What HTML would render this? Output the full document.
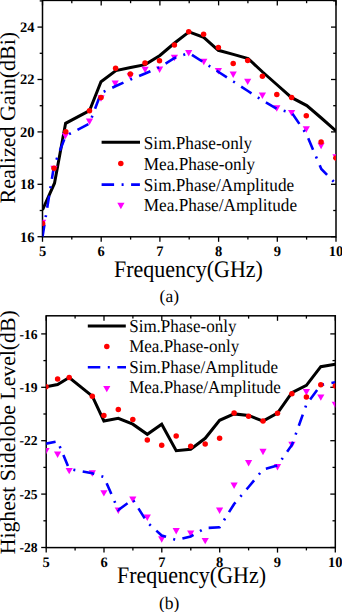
<!DOCTYPE html>
<html><head><meta charset="utf-8"><style>
html,body{margin:0;padding:0;background:#fff;}
body{width:342px;height:612px;overflow:hidden;}
svg{display:block;font-family:"Liberation Serif",serif;}
text{text-rendering:geometricPrecision;}
</style></head><body>
<svg width="342" height="612" viewBox="0 0 342 612">
<defs><clipPath id="ca"><rect x="42.5" y="0.4" width="293.5" height="236.4"/></clipPath><clipPath id="cb"><rect x="46.2" y="315.8" width="289.1" height="231.8"/></clipPath></defs>
<rect x="42.5" y="0.4" width="293.5" height="236.4" fill="none" stroke="#000" stroke-width="1.5"/>
<line x1="42.5" y1="236.8" x2="42.5" y2="241.8" stroke="#000" stroke-width="1.3"/>
<line x1="42.5" y1="0.4" x2="42.5" y2="5.4" stroke="#000" stroke-width="1.3"/>
<text transform="translate(42.50,255.80) scale(1,1.0)" font-size="14.5" font-weight="bold" text-anchor="middle">5</text>
<line x1="71.8" y1="236.8" x2="71.8" y2="239.60000000000002" stroke="#000" stroke-width="1.3"/>
<line x1="71.8" y1="0.4" x2="71.8" y2="3.1999999999999997" stroke="#000" stroke-width="1.3"/>
<line x1="101.2" y1="236.8" x2="101.2" y2="241.8" stroke="#000" stroke-width="1.3"/>
<line x1="101.2" y1="0.4" x2="101.2" y2="5.4" stroke="#000" stroke-width="1.3"/>
<text transform="translate(101.20,255.80) scale(1,1.0)" font-size="14.5" font-weight="bold" text-anchor="middle">6</text>
<line x1="130.6" y1="236.8" x2="130.6" y2="239.60000000000002" stroke="#000" stroke-width="1.3"/>
<line x1="130.6" y1="0.4" x2="130.6" y2="3.1999999999999997" stroke="#000" stroke-width="1.3"/>
<line x1="159.9" y1="236.8" x2="159.9" y2="241.8" stroke="#000" stroke-width="1.3"/>
<line x1="159.9" y1="0.4" x2="159.9" y2="5.4" stroke="#000" stroke-width="1.3"/>
<text transform="translate(159.90,255.80) scale(1,1.0)" font-size="14.5" font-weight="bold" text-anchor="middle">7</text>
<line x1="189.2" y1="236.8" x2="189.2" y2="239.60000000000002" stroke="#000" stroke-width="1.3"/>
<line x1="189.2" y1="0.4" x2="189.2" y2="3.1999999999999997" stroke="#000" stroke-width="1.3"/>
<line x1="218.6" y1="236.8" x2="218.6" y2="241.8" stroke="#000" stroke-width="1.3"/>
<line x1="218.6" y1="0.4" x2="218.6" y2="5.4" stroke="#000" stroke-width="1.3"/>
<text transform="translate(218.60,255.80) scale(1,1.0)" font-size="14.5" font-weight="bold" text-anchor="middle">8</text>
<line x1="247.9" y1="236.8" x2="247.9" y2="239.60000000000002" stroke="#000" stroke-width="1.3"/>
<line x1="247.9" y1="0.4" x2="247.9" y2="3.1999999999999997" stroke="#000" stroke-width="1.3"/>
<line x1="277.3" y1="236.8" x2="277.3" y2="241.8" stroke="#000" stroke-width="1.3"/>
<line x1="277.3" y1="0.4" x2="277.3" y2="5.4" stroke="#000" stroke-width="1.3"/>
<text transform="translate(277.30,255.80) scale(1,1.0)" font-size="14.5" font-weight="bold" text-anchor="middle">9</text>
<line x1="306.6" y1="236.8" x2="306.6" y2="239.60000000000002" stroke="#000" stroke-width="1.3"/>
<line x1="306.6" y1="0.4" x2="306.6" y2="3.1999999999999997" stroke="#000" stroke-width="1.3"/>
<line x1="336.0" y1="236.8" x2="336.0" y2="241.8" stroke="#000" stroke-width="1.3"/>
<line x1="336.0" y1="0.4" x2="336.0" y2="5.4" stroke="#000" stroke-width="1.3"/>
<text transform="translate(336.00,255.80) scale(1,1.0)" font-size="14.5" font-weight="bold" text-anchor="middle">10</text>
<line x1="37.5" y1="236.7" x2="42.5" y2="236.7" stroke="#000" stroke-width="1.3"/>
<line x1="336.0" y1="236.7" x2="331.0" y2="236.7" stroke="#000" stroke-width="1.3"/>
<text transform="translate(34.40,241.50) scale(1,1.0)" font-size="14.5" font-weight="bold" text-anchor="end">16</text>
<line x1="39.7" y1="210.5" x2="42.5" y2="210.5" stroke="#000" stroke-width="1.3"/>
<line x1="336.0" y1="210.5" x2="333.2" y2="210.5" stroke="#000" stroke-width="1.3"/>
<line x1="37.5" y1="184.3" x2="42.5" y2="184.3" stroke="#000" stroke-width="1.3"/>
<line x1="336.0" y1="184.3" x2="331.0" y2="184.3" stroke="#000" stroke-width="1.3"/>
<text transform="translate(34.40,189.10) scale(1,1.0)" font-size="14.5" font-weight="bold" text-anchor="end">18</text>
<line x1="39.7" y1="158.1" x2="42.5" y2="158.1" stroke="#000" stroke-width="1.3"/>
<line x1="336.0" y1="158.1" x2="333.2" y2="158.1" stroke="#000" stroke-width="1.3"/>
<line x1="37.5" y1="131.9" x2="42.5" y2="131.9" stroke="#000" stroke-width="1.3"/>
<line x1="336.0" y1="131.9" x2="331.0" y2="131.9" stroke="#000" stroke-width="1.3"/>
<text transform="translate(34.40,136.70) scale(1,1.0)" font-size="14.5" font-weight="bold" text-anchor="end">20</text>
<line x1="39.7" y1="105.7" x2="42.5" y2="105.7" stroke="#000" stroke-width="1.3"/>
<line x1="336.0" y1="105.7" x2="333.2" y2="105.7" stroke="#000" stroke-width="1.3"/>
<line x1="37.5" y1="79.5" x2="42.5" y2="79.5" stroke="#000" stroke-width="1.3"/>
<line x1="336.0" y1="79.5" x2="331.0" y2="79.5" stroke="#000" stroke-width="1.3"/>
<text transform="translate(34.40,84.30) scale(1,1.0)" font-size="14.5" font-weight="bold" text-anchor="end">22</text>
<line x1="39.7" y1="53.3" x2="42.5" y2="53.3" stroke="#000" stroke-width="1.3"/>
<line x1="336.0" y1="53.3" x2="333.2" y2="53.3" stroke="#000" stroke-width="1.3"/>
<line x1="37.5" y1="27.1" x2="42.5" y2="27.1" stroke="#000" stroke-width="1.3"/>
<line x1="336.0" y1="27.1" x2="331.0" y2="27.1" stroke="#000" stroke-width="1.3"/>
<text transform="translate(34.40,31.90) scale(1,1.0)" font-size="14.5" font-weight="bold" text-anchor="end">24</text>
<line x1="39.7" y1="0.9" x2="42.5" y2="0.9" stroke="#000" stroke-width="1.3"/>
<line x1="336.0" y1="0.9" x2="333.2" y2="0.9" stroke="#000" stroke-width="1.3"/>
<g clip-path="url(#ca)">
<polyline points="42.5,210.0 54.5,183.2 65.6,123.3 89.5,110.7 101.0,81.8 115.9,70.6 130.6,67.5 145.2,64.6 159.9,55.5 174.6,43.0 189.0,31.9 203.7,37.4 218.3,50.3 233.3,54.4 248.1,58.5 262.6,72.0 277.3,85.0 291.3,97.4 306.8,105.6 321.3,118.0 336.0,131.0" fill="none" stroke="#000" stroke-width="3"/>
<polygon points="39.00,219.80 46.20,219.80 42.60,226.20" fill="#ff00ff"/>
<polygon points="50.40,165.80 57.60,165.80 54.00,172.20" fill="#ff00ff"/>
<polygon points="61.80,132.90 69.00,132.90 65.40,139.30" fill="#ff00ff"/>
<polygon points="85.90,118.50 93.10,118.50 89.50,124.90" fill="#ff00ff"/>
<polygon points="97.40,95.30 104.60,95.30 101.00,101.70" fill="#ff00ff"/>
<polygon points="111.60,80.60 118.80,80.60 115.20,87.00" fill="#ff00ff"/>
<polygon points="126.70,73.30 133.90,73.30 130.30,79.70" fill="#ff00ff"/>
<polygon points="141.50,66.70 148.70,66.70 145.10,73.10" fill="#ff00ff"/>
<polygon points="156.00,66.50 163.20,66.50 159.60,72.90" fill="#ff00ff"/>
<polygon points="170.80,54.80 178.00,54.80 174.40,61.20" fill="#ff00ff"/>
<polygon points="185.10,50.00 192.30,50.00 188.70,56.40" fill="#ff00ff"/>
<polygon points="200.20,58.80 207.40,58.80 203.80,65.20" fill="#ff00ff"/>
<polygon points="214.80,68.10 222.00,68.10 218.40,74.50" fill="#ff00ff"/>
<polygon points="229.60,71.50 236.80,71.50 233.20,77.90" fill="#ff00ff"/>
<polygon points="244.10,78.70 251.30,78.70 247.70,85.10" fill="#ff00ff"/>
<polygon points="258.80,92.50 266.00,92.50 262.40,98.90" fill="#ff00ff"/>
<polygon points="273.20,105.30 280.40,105.30 276.80,111.70" fill="#ff00ff"/>
<polygon points="288.00,109.90 295.20,109.90 291.60,116.30" fill="#ff00ff"/>
<polygon points="302.70,126.30 309.90,126.30 306.30,132.70" fill="#ff00ff"/>
<polygon points="317.50,142.80 324.70,142.80 321.10,149.20" fill="#ff00ff"/>
<polygon points="332.40,154.30 339.60,154.30 336.00,160.70" fill="#ff00ff"/>
<polyline points="42.5,236.7 54.0,166.0 65.6,136.0 89.5,123.5 101.0,93.0 115.9,86.0 130.6,79.5 145.2,73.5 159.9,67.0 174.6,58.0 189.0,53.0 203.9,62.5 218.6,72.0 233.3,81.5 247.9,91.0 262.6,100.5 277.3,109.0 292.0,113.0 306.6,134.5 321.3,169.0 336.0,184.0" fill="none" stroke="#0000ff" stroke-width="2.6" stroke-dasharray="12.3 7.5 2 7.5" stroke-dashoffset="0"/>
<circle cx="42.6" cy="223.4" r="2.75" fill="#ff0000"/>
<circle cx="54.0" cy="168.3" r="2.75" fill="#ff0000"/>
<circle cx="65.8" cy="131.8" r="2.75" fill="#ff0000"/>
<circle cx="89.5" cy="110.7" r="2.75" fill="#ff0000"/>
<circle cx="101.0" cy="97.5" r="2.75" fill="#ff0000"/>
<circle cx="115.6" cy="68.2" r="2.75" fill="#ff0000"/>
<circle cx="130.3" cy="73.9" r="2.75" fill="#ff0000"/>
<circle cx="145.0" cy="63.0" r="2.75" fill="#ff0000"/>
<circle cx="159.5" cy="60.7" r="2.75" fill="#ff0000"/>
<circle cx="174.4" cy="45.0" r="2.75" fill="#ff0000"/>
<circle cx="188.7" cy="31.7" r="2.75" fill="#ff0000"/>
<circle cx="203.6" cy="34.3" r="2.75" fill="#ff0000"/>
<circle cx="218.4" cy="47.6" r="2.75" fill="#ff0000"/>
<circle cx="233.2" cy="63.4" r="2.75" fill="#ff0000"/>
<circle cx="247.7" cy="60.5" r="2.75" fill="#ff0000"/>
<circle cx="262.4" cy="76.3" r="2.75" fill="#ff0000"/>
<circle cx="276.8" cy="94.6" r="2.75" fill="#ff0000"/>
<circle cx="291.6" cy="97.4" r="2.75" fill="#ff0000"/>
<circle cx="306.3" cy="115.7" r="2.75" fill="#ff0000"/>
<circle cx="321.1" cy="142.0" r="2.75" fill="#ff0000"/>
<circle cx="336.0" cy="157.9" r="2.75" fill="#ff0000"/>
</g>
<line x1="101.6" y1="142.3" x2="140" y2="142.3" stroke="#000" stroke-width="3"/>
<circle cx="120.8" cy="163.5" r="2.75" fill="#ff0000"/>
<line x1="101.6" y1="184.6" x2="139.9" y2="184.6" stroke="#0000ff" stroke-width="2.6" stroke-dasharray="12.5 7.5 2 7.5"/>
<polygon points="117.30,202.80 124.50,202.80 120.90,209.20" fill="#ff00ff"/>
<text transform="translate(143.80,148.80) scale(1,1.06)" font-size="17.2">Sim.Phase-only</text>
<text transform="translate(143.80,169.60) scale(1,1.06)" font-size="17.2">Mea.Phase-only</text>
<text transform="translate(143.80,190.50) scale(1,1.06)" font-size="17.2">Sim.Phase/Amplitude</text>
<text transform="translate(143.80,211.20) scale(1,1.06)" font-size="17.2">Mea.Phase/Amplitude</text>
<text transform="translate(113.90,276.80) scale(1,1.08)" font-size="22">Frequency(GHz)</text>
<text transform="translate(159.60,302.30) scale(1,1.02)" font-size="17.5">(a)</text>
<text transform="translate(14.8,203.5) rotate(-90)" font-size="22">Realized Gain(dBi)</text>
<rect x="46.2" y="315.8" width="289.1" height="231.8" fill="none" stroke="#000" stroke-width="1.5"/>
<line x1="46.2" y1="547.6" x2="46.2" y2="552.6" stroke="#000" stroke-width="1.3"/>
<line x1="46.2" y1="315.8" x2="46.2" y2="320.8" stroke="#000" stroke-width="1.3"/>
<text transform="translate(46.20,567.00) scale(1,1.0)" font-size="14.5" font-weight="bold" text-anchor="middle">5</text>
<line x1="75.1" y1="547.6" x2="75.1" y2="550.4" stroke="#000" stroke-width="1.3"/>
<line x1="75.1" y1="315.8" x2="75.1" y2="318.6" stroke="#000" stroke-width="1.3"/>
<line x1="104.0" y1="547.6" x2="104.0" y2="552.6" stroke="#000" stroke-width="1.3"/>
<line x1="104.0" y1="315.8" x2="104.0" y2="320.8" stroke="#000" stroke-width="1.3"/>
<text transform="translate(104.02,567.00) scale(1,1.0)" font-size="14.5" font-weight="bold" text-anchor="middle">6</text>
<line x1="132.9" y1="547.6" x2="132.9" y2="550.4" stroke="#000" stroke-width="1.3"/>
<line x1="132.9" y1="315.8" x2="132.9" y2="318.6" stroke="#000" stroke-width="1.3"/>
<line x1="161.8" y1="547.6" x2="161.8" y2="552.6" stroke="#000" stroke-width="1.3"/>
<line x1="161.8" y1="315.8" x2="161.8" y2="320.8" stroke="#000" stroke-width="1.3"/>
<text transform="translate(161.84,567.00) scale(1,1.0)" font-size="14.5" font-weight="bold" text-anchor="middle">7</text>
<line x1="190.8" y1="547.6" x2="190.8" y2="550.4" stroke="#000" stroke-width="1.3"/>
<line x1="190.8" y1="315.8" x2="190.8" y2="318.6" stroke="#000" stroke-width="1.3"/>
<line x1="219.7" y1="547.6" x2="219.7" y2="552.6" stroke="#000" stroke-width="1.3"/>
<line x1="219.7" y1="315.8" x2="219.7" y2="320.8" stroke="#000" stroke-width="1.3"/>
<text transform="translate(219.66,567.00) scale(1,1.0)" font-size="14.5" font-weight="bold" text-anchor="middle">8</text>
<line x1="248.6" y1="547.6" x2="248.6" y2="550.4" stroke="#000" stroke-width="1.3"/>
<line x1="248.6" y1="315.8" x2="248.6" y2="318.6" stroke="#000" stroke-width="1.3"/>
<line x1="277.5" y1="547.6" x2="277.5" y2="552.6" stroke="#000" stroke-width="1.3"/>
<line x1="277.5" y1="315.8" x2="277.5" y2="320.8" stroke="#000" stroke-width="1.3"/>
<text transform="translate(277.48,567.00) scale(1,1.0)" font-size="14.5" font-weight="bold" text-anchor="middle">9</text>
<line x1="306.4" y1="547.6" x2="306.4" y2="550.4" stroke="#000" stroke-width="1.3"/>
<line x1="306.4" y1="315.8" x2="306.4" y2="318.6" stroke="#000" stroke-width="1.3"/>
<line x1="335.3" y1="547.6" x2="335.3" y2="552.6" stroke="#000" stroke-width="1.3"/>
<line x1="335.3" y1="315.8" x2="335.3" y2="320.8" stroke="#000" stroke-width="1.3"/>
<text transform="translate(335.30,567.00) scale(1,1.0)" font-size="14.5" font-weight="bold" text-anchor="middle">10</text>
<line x1="41.2" y1="547.5" x2="46.2" y2="547.5" stroke="#000" stroke-width="1.3"/>
<line x1="335.3" y1="547.5" x2="330.3" y2="547.5" stroke="#000" stroke-width="1.3"/>
<text transform="translate(37.60,552.10) scale(1,1.0)" font-size="13.6" font-weight="bold" text-anchor="end">-28</text>
<line x1="43.400000000000006" y1="520.8" x2="46.2" y2="520.8" stroke="#000" stroke-width="1.3"/>
<line x1="335.3" y1="520.8" x2="332.5" y2="520.8" stroke="#000" stroke-width="1.3"/>
<line x1="41.2" y1="494.1" x2="46.2" y2="494.1" stroke="#000" stroke-width="1.3"/>
<line x1="335.3" y1="494.1" x2="330.3" y2="494.1" stroke="#000" stroke-width="1.3"/>
<text transform="translate(37.60,498.70) scale(1,1.0)" font-size="13.6" font-weight="bold" text-anchor="end">-25</text>
<line x1="43.400000000000006" y1="467.4" x2="46.2" y2="467.4" stroke="#000" stroke-width="1.3"/>
<line x1="335.3" y1="467.4" x2="332.5" y2="467.4" stroke="#000" stroke-width="1.3"/>
<line x1="41.2" y1="440.7" x2="46.2" y2="440.7" stroke="#000" stroke-width="1.3"/>
<line x1="335.3" y1="440.7" x2="330.3" y2="440.7" stroke="#000" stroke-width="1.3"/>
<text transform="translate(37.60,445.30) scale(1,1.0)" font-size="13.6" font-weight="bold" text-anchor="end">-22</text>
<line x1="43.400000000000006" y1="414.0" x2="46.2" y2="414.0" stroke="#000" stroke-width="1.3"/>
<line x1="335.3" y1="414.0" x2="332.5" y2="414.0" stroke="#000" stroke-width="1.3"/>
<line x1="41.2" y1="387.3" x2="46.2" y2="387.3" stroke="#000" stroke-width="1.3"/>
<line x1="335.3" y1="387.3" x2="330.3" y2="387.3" stroke="#000" stroke-width="1.3"/>
<text transform="translate(37.60,391.90) scale(1,1.0)" font-size="13.6" font-weight="bold" text-anchor="end">-19</text>
<line x1="43.400000000000006" y1="360.6" x2="46.2" y2="360.6" stroke="#000" stroke-width="1.3"/>
<line x1="335.3" y1="360.6" x2="332.5" y2="360.6" stroke="#000" stroke-width="1.3"/>
<line x1="41.2" y1="333.9" x2="46.2" y2="333.9" stroke="#000" stroke-width="1.3"/>
<line x1="335.3" y1="333.9" x2="330.3" y2="333.9" stroke="#000" stroke-width="1.3"/>
<text transform="translate(37.60,338.50) scale(1,1.0)" font-size="13.6" font-weight="bold" text-anchor="end">-16</text>
<g clip-path="url(#cb)">
<polyline points="46.0,386.8 57.6,384.5 69.2,377.5 92.3,396.2 103.9,421.0 118.3,418.3 132.8,424.2 147.3,434.3 161.7,424.2 176.2,450.7 190.7,449.3 205.2,438.3 219.6,420.3 234.1,413.9 248.6,415.4 263.0,421.1 277.5,413.0 291.9,392.7 306.4,385.4 320.8,366.7 335.3,364.3" fill="none" stroke="#000" stroke-width="3"/>
<polygon points="42.40,448.00 49.60,448.00 46.00,454.40" fill="#ff00ff"/>
<polygon points="54.00,451.50 61.20,451.50 57.60,457.90" fill="#ff00ff"/>
<polygon points="65.60,467.90 72.80,467.90 69.20,474.30" fill="#ff00ff"/>
<polygon points="88.70,470.30 95.90,470.30 92.30,476.70" fill="#ff00ff"/>
<polygon points="100.30,490.20 107.50,490.20 103.90,496.60" fill="#ff00ff"/>
<polygon points="114.70,507.50 121.90,507.50 118.30,513.90" fill="#ff00ff"/>
<polygon points="129.20,496.50 136.40,496.50 132.80,502.90" fill="#ff00ff"/>
<polygon points="143.70,514.60 150.90,514.60 147.30,521.00" fill="#ff00ff"/>
<polygon points="158.10,536.30 165.30,536.30 161.70,542.70" fill="#ff00ff"/>
<polygon points="172.60,528.10 179.80,528.10 176.20,534.50" fill="#ff00ff"/>
<polygon points="187.10,530.50 194.30,530.50 190.70,536.90" fill="#ff00ff"/>
<polygon points="201.60,537.90 208.80,537.90 205.20,544.30" fill="#ff00ff"/>
<polygon points="216.00,507.50 223.20,507.50 219.60,513.90" fill="#ff00ff"/>
<polygon points="230.50,482.50 237.70,482.50 234.10,488.90" fill="#ff00ff"/>
<polygon points="245.00,460.00 252.20,460.00 248.60,466.40" fill="#ff00ff"/>
<polygon points="259.40,448.80 266.60,448.80 263.00,455.20" fill="#ff00ff"/>
<polygon points="273.90,464.00 281.10,464.00 277.50,470.40" fill="#ff00ff"/>
<polygon points="288.30,441.70 295.50,441.70 291.90,448.10" fill="#ff00ff"/>
<polygon points="302.80,389.00 310.00,389.00 306.40,395.40" fill="#ff00ff"/>
<polygon points="317.20,394.40 324.40,394.40 320.80,400.80" fill="#ff00ff"/>
<polygon points="331.70,401.70 338.90,401.70 335.30,408.10" fill="#ff00ff"/>
<polyline points="46.0,443.7 57.6,441.3 69.2,469.0 92.3,473.3 103.9,477.0 118.3,510.0 132.8,499.5 147.3,522.5 161.7,535.5 176.2,540.0 190.7,536.5 205.2,528.0 219.6,527.3 234.1,504.0 248.6,487.0 263.0,469.5 277.5,465.5 291.9,445.0 306.4,404.5 320.8,385.0 335.3,382.3" fill="none" stroke="#0000ff" stroke-width="2.6" stroke-dasharray="11.8 7.5 2 7.5" stroke-dashoffset="2"/>
<circle cx="46.0" cy="386.8" r="2.75" fill="#ff0000"/>
<circle cx="57.6" cy="378.9" r="2.75" fill="#ff0000"/>
<circle cx="69.2" cy="377.5" r="2.75" fill="#ff0000"/>
<circle cx="92.3" cy="396.2" r="2.75" fill="#ff0000"/>
<circle cx="103.9" cy="415.6" r="2.75" fill="#ff0000"/>
<circle cx="118.3" cy="409.4" r="2.75" fill="#ff0000"/>
<circle cx="132.8" cy="419.6" r="2.75" fill="#ff0000"/>
<circle cx="147.3" cy="439.9" r="2.75" fill="#ff0000"/>
<circle cx="161.7" cy="445.3" r="2.75" fill="#ff0000"/>
<circle cx="176.2" cy="435.9" r="2.75" fill="#ff0000"/>
<circle cx="190.7" cy="446.3" r="2.75" fill="#ff0000"/>
<circle cx="205.2" cy="444.1" r="2.75" fill="#ff0000"/>
<circle cx="219.6" cy="438.3" r="2.75" fill="#ff0000"/>
<circle cx="234.1" cy="413.0" r="2.75" fill="#ff0000"/>
<circle cx="248.6" cy="416.2" r="2.75" fill="#ff0000"/>
<circle cx="263.0" cy="421.1" r="2.75" fill="#ff0000"/>
<circle cx="277.5" cy="413.2" r="2.75" fill="#ff0000"/>
<circle cx="291.9" cy="393.7" r="2.75" fill="#ff0000"/>
<circle cx="306.4" cy="397.0" r="2.75" fill="#ff0000"/>
<circle cx="320.8" cy="384.7" r="2.75" fill="#ff0000"/>
<circle cx="335.3" cy="386.0" r="2.75" fill="#ff0000"/>
</g>
<line x1="87.8" y1="326.1" x2="125.8" y2="326.1" stroke="#000" stroke-width="3"/>
<circle cx="106.8" cy="346.6" r="2.75" fill="#ff0000"/>
<line x1="87.8" y1="367.3" x2="126" y2="367.3" stroke="#0000ff" stroke-width="2.6" stroke-dasharray="12.5 7.5 2 7.5"/>
<polygon points="103.20,385.90 110.40,385.90 106.80,392.30" fill="#ff00ff"/>
<text transform="translate(129.20,331.80) scale(1,1.06)" font-size="17.0">Sim.Phase-only</text>
<text transform="translate(129.20,352.40) scale(1,1.06)" font-size="17.0">Mea.Phase-only</text>
<text transform="translate(129.20,372.50) scale(1,1.06)" font-size="17.0">Sim.Phase/Amplitude</text>
<text transform="translate(129.20,392.90) scale(1,1.06)" font-size="17.0">Mea.Phase/Amplitude</text>
<text transform="translate(117.00,582.80) scale(1,1.08)" font-size="22">Frequency(GHz)</text>
<text transform="translate(159.00,609.00) scale(1,1.02)" font-size="17.5">(b)</text>
<text transform="translate(15.4,554.3) rotate(-90)" font-size="21.75">Highest Sidelobe Level(dB)</text>
</svg></body></html>
